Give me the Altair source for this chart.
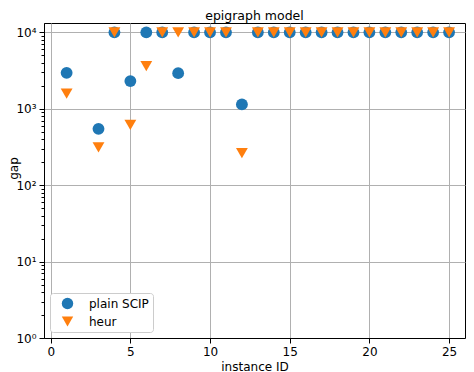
import altair as alt
import pandas as pd

series_names = ["plain SCIP", "heur"]
series_colors = ["#1f77b4", "#ff7f0e"]
series_shapes = ["circle", "triangle-down"]

plain_ids = [1, 3, 4, 5, 6, 7, 8, 9, 10, 11, 12, 13, 14, 15, 16, 17, 18, 19, 20, 21, 22, 23, 24, 25]
plain_gap = [2950, 546, 10000, 2300, 10000, 10000, 2920, 10000, 10000, 10000, 1140,
             10000, 10000, 10000, 10000, 10000, 10000, 10000, 10000, 10000, 10000, 10000, 10000, 10000]

heur_ids = [1, 3, 4, 5, 6, 7, 8, 9, 10, 11, 12, 13, 14, 15, 16, 17, 18, 19, 20, 21, 22, 23, 24, 25]
heur_gap = [1575, 313, 10000, 617, 3600, 10000, 10000, 10000, 10000, 10000, 263,
            10000, 10000, 10000, 10000, 10000, 10000, 10000, 10000, 10000, 10000, 10000, 10000, 10000]

x_ticks = [0, 5, 10, 15, 20, 25]
y_major = [1, 10, 100, 1000, 10000]
y_minor = [2, 3, 4, 5, 6, 7, 8, 9, 20, 30, 40, 50, 60, 70, 80, 90,
           200, 300, 400, 500, 600, 700, 800, 900, 2000, 3000, 4000, 5000, 6000, 7000, 8000, 9000]

rows = []
for i, g in zip(plain_ids, plain_gap):
    rows.append({"id": i, "gap": g, "series": series_names[0]})
for i, g in zip(heur_ids, heur_gap):
    rows.append({"id": i, "gap": g, "series": series_names[1]})
df = pd.DataFrame(rows)

FONT = "DejaVu Sans"
xscale = alt.Scale(domain=[-0.42, 26.0], nice=False, zero=False)
yscale = alt.Scale(type="log", domain=[1, 13240], nice=False)

x_axis = alt.Axis(values=x_ticks, title="instance ID", grid=True,
                  labelFontSize=12, titleFontSize=12, tickSize=5,
                  labelPadding=3, titleBaseline="alphabetic", titleY=32,
                  titleFontWeight="normal", labelFlush=False)

base = alt.Chart(df)

points = base.mark_point(filled=True, opacity=1, strokeWidth=0, size=140).encode(
    x=alt.X("id:Q", scale=xscale, axis=x_axis),
    y=alt.Y("gap:Q", scale=yscale,
            axis=alt.Axis(values=y_major, title="gap", grid=True,
                          labelExpr="'10' + ['⁰','¹','²','³','⁴','⁵'][round(log(datum.value)/LN10)]",
                          labelFontSize=12, titleFontSize=12, tickSize=5, labelPadding=3,
                          titleX=-27, titleY=145, titleBaseline="alphabetic",
                          titleAlign="center", titleAngle=-90, titleFontWeight="normal",
                          labelFlush=False)),
    color=alt.Color("series:N", scale=alt.Scale(domain=series_names, range=series_colors),
                    legend=alt.Legend(title=None, orient="none", legendX=6, legendY=270,
                                      fillColor="white", strokeColor="#cccccc",
                                      cornerRadius=3, padding=4, symbolOffset=7,
                                      labelOffset=15, rowPadding=5, labelFontSize=12,
                                      symbolSize=130, labelFont=FONT)),
    shape=alt.Shape("series:N", scale=alt.Scale(domain=series_names, range=series_shapes)),
)

minor = base.mark_point(opacity=0).encode(
    x=alt.X("id:Q", scale=xscale, axis=x_axis),
    y=alt.Y("gap:Q", scale=yscale,
            axis=alt.Axis(orient="left", values=y_minor, labels=False, title=None,
                          grid=False, tickSize=3, domain=False)),
)

chart = alt.layer(points, minor).resolve_axis(y="independent").properties(
    width=421, height=315,
    title=alt.TitleParams("epigraph model", fontSize=12.5, font=FONT, fontWeight="normal",
                          color="black", offset=1),
    padding={"left": 36, "top": 15, "right": 1, "bottom": 34},
    autosize=alt.AutoSizeParams(type="none"),
).configure_view(stroke="black", strokeWidth=1).configure_axis(
    domainColor="black", tickColor="black", labelColor="black", titleColor="black",
    labelFont=FONT, titleFont=FONT, gridColor="#b0b0b0", gridWidth=1, domainWidth=1,
).configure_legend(labelColor="black")

chart.save("out.html", embed_options={"renderer": "svg", "actions": False})
